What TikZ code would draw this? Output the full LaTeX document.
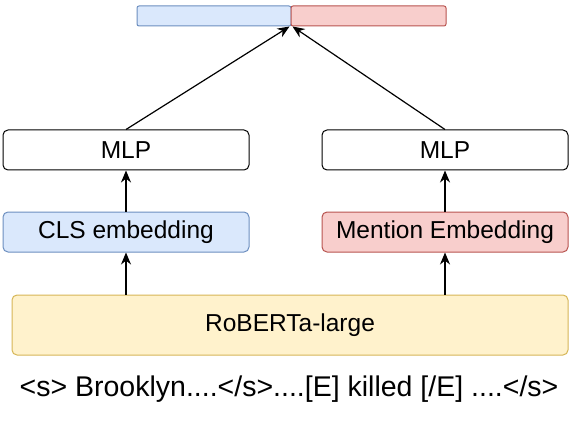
\documentclass[tikz,border=0pt]{standalone}
\usepackage{fontspec}
\setmainfont{Liberation Sans}
\usetikzlibrary{positioning}
\usetikzlibrary{arrows.meta}

\definecolor{blueFill}{HTML}{DAE8FC}
\definecolor{blueLine}{HTML}{6C8EBF}
\definecolor{redFill}{HTML}{F8CECC}
\definecolor{redLine}{HTML}{B85450}
\definecolor{yellowFill}{HTML}{FFF2CC}
\definecolor{yellowLine}{HTML}{D6B656}

\begin{document}
\begin{tikzpicture}[x = 1pt, y = -1pt,
		box/.style = {draw = black, line width = 1pt, rounded corners = 5pt, minimum width = 246pt, minimum height = 40pt, inner sep = 0pt, font = \fontsize{24.5}{28}\selectfont},
		vec/.style = {line width = 1pt, rounded corners = 2pt, minimum height = 20pt, inner sep = 0pt},
		arr/.style = {black, line width = 1.2pt, -{Stealth[length = 12pt, width = 10pt]}}]
	\useasboundingbox (0, 0) rectangle (575, 422);

	% output vector
	\node [vec, draw = blueLine, fill = blueFill, minimum width = 154pt] (vecL) at (214, 16) {};
	\node [vec, draw = redLine, fill = redFill, minimum width = 155pt] (vecR) at (368.5, 16) {};

	% heads
	\node [box] (mlpL) at (126, 150) {MLP};
	\node [box] (mlpR) at (445, 150) {MLP};
	\node [box, draw = blueLine, fill = blueFill] (clsEmb) at (126, 232) {CLS embedding};
	\node [box, draw = redLine, fill = redFill] (menEmb) at (445, 232) {Mention Embedding};

	% encoder and input
	\node [box, draw = yellowLine, fill = yellowFill, minimum width = 556pt, minimum height = 60pt] (roberta) at (290, 325) {RoBERTa-large};
	\node [font = \fontsize{28.5}{32}\selectfont] (input) at (289, 389) {<s> Brooklyn....</s>....[E] killed [/E] ....</s>};

	\draw [arr] (roberta.north -| clsEmb.south) -- (clsEmb.south);
	\draw [arr] (roberta.north -| menEmb.south) -- (menEmb.south);
	\draw [arr] (clsEmb.north) -- (mlpL.south);
	\draw [arr] (menEmb.north) -- (mlpR.south);
	\draw [arr] (mlpL.north) -- ([xshift = -2pt] vecL.south east);
	\draw [arr] (mlpR.north) -- ([xshift = 2pt] vecR.south west);
\end{tikzpicture}
\end{document}
